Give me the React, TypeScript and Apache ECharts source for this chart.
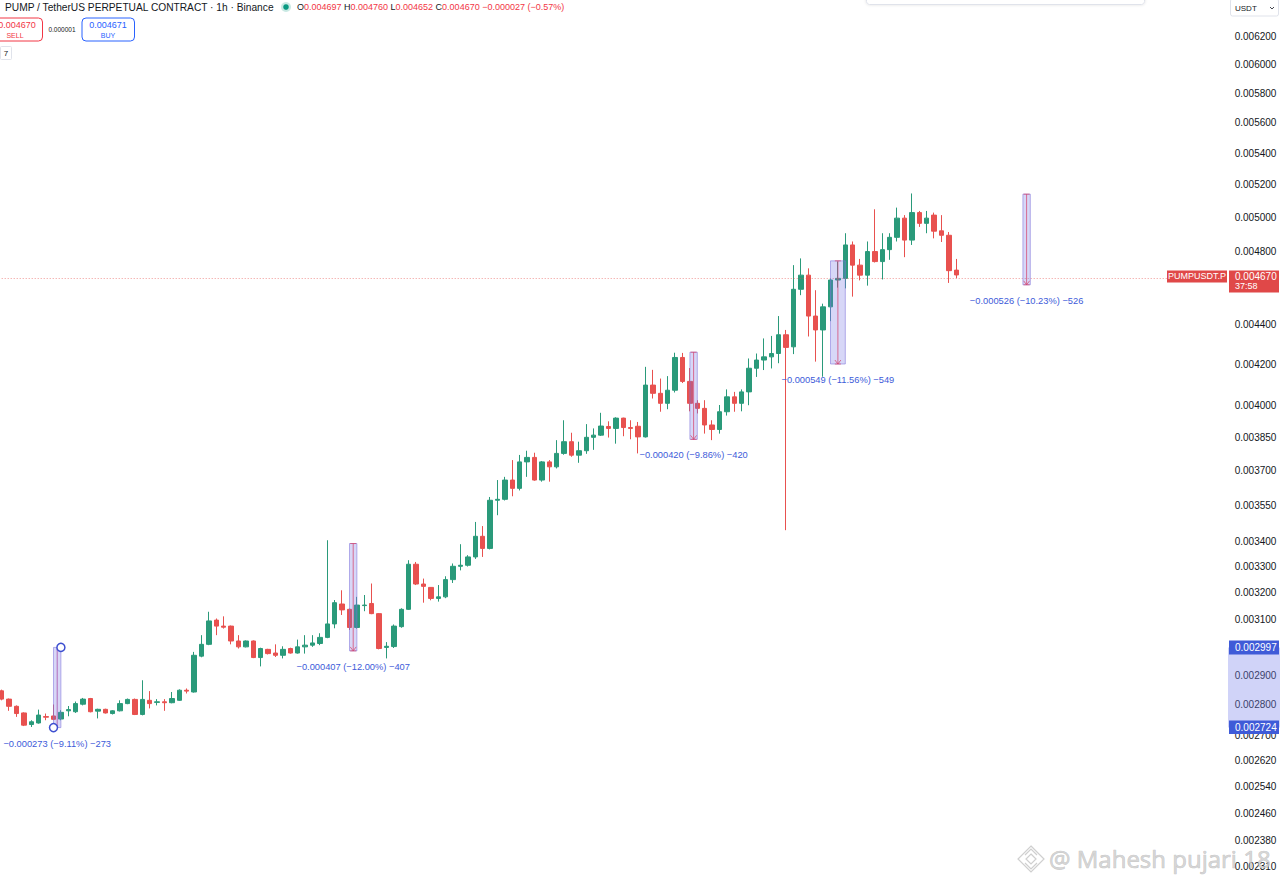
import React, { useEffect, useRef } from "react";
import * as echarts from "echarts";

// ---- candle data (USDT), 1h candles ----
const opens = [
  0.002846, 0.002818, 0.002794, 0.002772, 0.002734, 0.002739, 0.00276, 0.002762, 0.002752, 0.002779,
  0.002776, 0.002801, 0.00282, 0.002778, 0.002784, 0.00277, 0.002779, 0.002803, 0.002817, 0.002767,
  0.002814, 0.002807, 0.002809, 0.002806, 0.002814, 0.002848, 0.002842, 0.002966, 0.003008, 0.003096,
  0.003074, 0.003074, 0.00302, 0.002999, 0.00302, 0.002961, 0.00299, 0.002977, 0.002969, 0.002993,
  0.002977, 0.002999, 0.003005, 0.003011, 0.003033, 0.003082, 0.003156, 0.003136, 0.003069, 0.00315,
  0.003158, 0.00312, 0.002997, 0.003, 0.003072, 0.003136, 0.003309, 0.003232, 0.003219, 0.003177,
  0.003183, 0.003249, 0.003301, 0.003305, 0.003338, 0.003421, 0.003372, 0.003571, 0.003575, 0.003658,
  0.003622, 0.003738, 0.003758, 0.003658, 0.003738, 0.003716, 0.003776, 0.003829, 0.003768, 0.003788,
  0.003849, 0.003859, 0.003899, 0.00389, 0.003938, 0.003894, 0.0039, 0.003851, 0.004096, 0.004056,
  0.004008, 0.004071, 0.004233, 0.004114, 0.004008, 0.003984, 0.003906, 0.003885, 0.003968, 0.004039,
  0.004008, 0.004063, 0.004179, 0.00422, 0.004236, 0.004253, 0.004349, 0.004287, 0.004591, 0.004669,
  0.004447, 0.004374, 0.004496, 0.004642, 0.004651, 0.00484, 0.004725, 0.004669, 0.004802, 0.004745,
  0.004813, 0.004884, 0.004997, 0.004868, 0.00503, 0.004966, 0.005015, 0.004922, 0.004896, 0.004697,
];
const highs = [
  0.00285, 0.00282, 0.002797, 0.002774, 0.002748, 0.002783, 0.00277, 0.0028, 0.002781, 0.002795,
  0.00281, 0.002822, 0.002822, 0.002786, 0.002786, 0.002781, 0.002814, 0.00282, 0.00282, 0.002882,
  0.002845, 0.002818, 0.002818, 0.002842, 0.002851, 0.002854, 0.002981, 0.003041, 0.003127, 0.003102,
  0.00311, 0.003076, 0.003041, 0.003022, 0.003022, 0.002996, 0.002992, 0.003008, 0.003001, 0.002996,
  0.003025, 0.003041, 0.003041, 0.003048, 0.003405, 0.003171, 0.003208, 0.003139, 0.003183, 0.00319,
  0.003234, 0.003122, 0.003016, 0.00308, 0.00314, 0.003325, 0.003318, 0.003253, 0.00322, 0.003228,
  0.003262, 0.003312, 0.003389, 0.003345, 0.00348, 0.003463, 0.003585, 0.003658, 0.003672, 0.003746,
  0.003769, 0.003788, 0.003779, 0.003742, 0.003746, 0.003836, 0.003928, 0.00387, 0.003829, 0.00391,
  0.00389, 0.003963, 0.003923, 0.003942, 0.00394, 0.003928, 0.00392, 0.004186, 0.004171, 0.004128,
  0.00414, 0.004257, 0.004256, 0.00418, 0.004023, 0.004023, 0.003928, 0.004, 0.004075, 0.004063,
  0.004075, 0.004228, 0.004253, 0.00433, 0.004343, 0.004447, 0.004374, 0.004725, 0.004763, 0.004707,
  0.004586, 0.004513, 0.00465, 0.004745, 0.004908, 0.00486, 0.00476, 0.00486, 0.00505, 0.004908,
  0.004908, 0.00506, 0.005015, 0.005146, 0.00504, 0.00504, 0.00503, 0.005015, 0.004915, 0.00476,
];
const lows = [
  0.002814, 0.002779, 0.002759, 0.002729, 0.002726, 0.002737, 0.002748, 0.002748, 0.002748, 0.002761,
  0.002772, 0.002797, 0.002774, 0.002754, 0.00277, 0.002767, 0.002777, 0.002801, 0.002765, 0.002764,
  0.002787, 0.002797, 0.002779, 0.002804, 0.002812, 0.002837, 0.00284, 0.002962, 0.003005, 0.003041,
  0.003065, 0.003008, 0.002993, 0.002997, 0.002959, 0.00293, 0.002972, 0.002963, 0.002958, 0.002975,
  0.002975, 0.002975, 0.002999, 0.003005, 0.00303, 0.003066, 0.003115, 0.00306, 0.003065, 0.003129,
  0.003118, 0.00299, 0.002958, 0.002995, 0.003068, 0.003134, 0.003228, 0.003161, 0.00317, 0.003165,
  0.003178, 0.003236, 0.003285, 0.0033, 0.00333, 0.003338, 0.003368, 0.003508, 0.00357, 0.003588,
  0.003613, 0.003672, 0.003655, 0.003651, 0.003651, 0.003709, 0.00377, 0.003761, 0.003734, 0.003774,
  0.003792, 0.003855, 0.003848, 0.00382, 0.003854, 0.00384, 0.003776, 0.003848, 0.004031, 0.003968,
  0.00398, 0.00406, 0.004106, 0.00397, 0.00396, 0.003866, 0.003836, 0.003866, 0.00395, 0.003968,
  0.00397, 0.003999, 0.004136, 0.00417, 0.004178, 0.004204, 0.003446, 0.00425, 0.004559, 0.00434,
  0.004212, 0.004137, 0.00442, 0.0046, 0.004596, 0.004551, 0.00464, 0.004611, 0.00474, 0.004645,
  0.004755, 0.00486, 0.00477, 0.00484, 0.004945, 0.004908, 0.004878, 0.004857, 0.004626, 0.004652,
];
const closes = [
  0.002818, 0.002794, 0.00277, 0.002732, 0.002743, 0.002765, 0.002758, 0.002751, 0.002774, 0.002783,
  0.002803, 0.002818, 0.002776, 0.002784, 0.002772, 0.002779, 0.002803, 0.002817, 0.002767, 0.002817,
  0.002803, 0.002809, 0.002806, 0.00282, 0.002848, 0.002845, 0.002969, 0.003008, 0.003093, 0.003074,
  0.00307, 0.00302, 0.002999, 0.00302, 0.002961, 0.002993, 0.002975, 0.002969, 0.00299, 0.002977,
  0.002999, 0.003005, 0.003013, 0.003033, 0.003082, 0.003161, 0.003134, 0.003069, 0.003152, 0.003152,
  0.00312, 0.002993, 0.003001, 0.003074, 0.003136, 0.003309, 0.003232, 0.003223, 0.003177, 0.003183,
  0.003249, 0.003301, 0.003305, 0.003338, 0.003421, 0.003372, 0.003571, 0.003575, 0.003658, 0.003622,
  0.003738, 0.003758, 0.003658, 0.003738, 0.003716, 0.003776, 0.003829, 0.003768, 0.003788, 0.003849,
  0.003859, 0.003901, 0.00389, 0.003938, 0.003894, 0.00389, 0.003851, 0.004096, 0.004056, 0.004008,
  0.004071, 0.004233, 0.004114, 0.004008, 0.003984, 0.003906, 0.003885, 0.003968, 0.004039, 0.004008,
  0.004063, 0.004179, 0.00422, 0.004236, 0.004253, 0.004349, 0.004284, 0.004591, 0.004669, 0.004447,
  0.004374, 0.004496, 0.004642, 0.004651, 0.00484, 0.004725, 0.004669, 0.004802, 0.004745, 0.004813,
  0.004884, 0.004997, 0.004868, 0.00503, 0.004966, 0.004997, 0.00492, 0.004896, 0.004694, 0.00467,
];

// number of bar slots on the time axis (candles + empty future space)
const TOTAL_SLOTS = 166;

// price-scale tick labels (log scale)
const tickValues = [
  0.0062, 0.006, 0.0058, 0.0056, 0.0054, 0.0052, 0.005, 0.0048, 0.0044, 0.0042, 0.004, 0.00385,
  0.0037, 0.00355, 0.0034, 0.0033, 0.0032, 0.0031, 0.0029, 0.0028, 0.0027, 0.00262, 0.00254,
  0.00246, 0.00238, 0.00231,
];
const PRICE_MIN = 0.0022638;
const PRICE_MAX = 0.0064793;

// price-range measurements
const rangeStart = [7, 47, 93, 112, 138];
const rangeEnd = [8, 48, 94, 114, 139];
const rangeTop = [0.002997, 0.0033917, 0.0042596, 0.0047491, 0.0051417];
const rangeBottom = [0.002724, 0.0029847, 0.0038396, 0.0042001, 0.0046157];
const rangeLabels = [
  "\u22120.000273 (\u22129.11%) \u2212273",
  "\u22120.000407 (\u221212.00%) \u2212407",
  "\u22120.000420 (\u22129.86%) \u2212420",
  "\u22120.000549 (\u221211.56%) \u2212549",
  "\u22120.000526 (\u221210.23%) \u2212526",
];

const lastPrice = 0.00467;
const headerTitle = "PUMP / TetherUS PERPETUAL CONTRACT \u00b7 1h \u00b7 Binance";
const ohlcLabels = ["O", "H", "L", "C"];
const ohlcValues = ["0.004697", "0.004760", "0.004652", "0.004670"];
const changeText = "\u22120.000027 (\u22120.57%)";

const GREEN = "#2a9a7a";
const RED = "#e8514f";
const BLUE = "#3d5bd9";
const FONT = "'Liberation Sans', Arial, sans-serif";

export default function App() {
  const ref = useRef<HTMLDivElement>(null);

  useEffect(() => {
    if (!ref.current) return;
    const chart = echarts.init(ref.current, undefined, { renderer: "svg" });
    const ln = Math.log;
    const categories = Array.from({ length: TOTAL_SLOTS }, (_, i) => String(i));
    const candleData = opens.map((o, i) => [ln(o), ln(closes[i]), ln(lows[i]), ln(highs[i])]);
    const rangeData = rangeStart.map((s, i) => [s, rangeEnd[i], ln(rangeTop[i]), ln(rangeBottom[i]), i]);

    const option: any = {
      animation: false,
      backgroundColor: "#ffffff",
      grid: { left: 1.7, right: 57.3, top: 0, bottom: 0 },
      xAxis: {
        type: "category",
        data: categories,
        boundaryGap: false,
        show: false,
      },
      yAxis: {
        type: "value",
        position: "right",
        min: ln(PRICE_MIN),
        max: ln(PRICE_MAX),
        splitLine: { show: false },
        axisLine: { show: false },
        axisTick: { show: false },
        axisLabel: {
          customValues: tickValues.map((v) => ln(v)),
          formatter: (v: number) => Math.exp(v).toFixed(6),
          fontSize: 10,
          color: "#131722",
          fontFamily: FONT,
          margin: 12,
          showMinLabel: true,
          showMaxLabel: true,
        },
      },
      series: [
        {
          type: "candlestick",
          data: candleData,
          barWidth: 5,
          itemStyle: {
            color: GREEN,
            color0: RED,
            borderColor: GREEN,
            borderColor0: RED,
            borderWidth: 1,
          },
          markLine: {
            silent: true,
            symbol: ["none", "none"],
            label: { show: false },
            lineStyle: { type: [1, 2], color: RED, width: 1, opacity: 0.6 },
            data: [{ yAxis: ln(lastPrice) }],
          },
          z: 2,
        },
        {
          type: "custom",
          coordinateSystem: "cartesian2d",
          encode: { x: [0, 1], y: [2, 3] },
          data: rangeData,
          z: 5,
          renderItem: (params: any, api: any) => {
            const p0 = api.coord([api.value(0), api.value(2)]);
            const p1 = api.coord([api.value(1), api.value(3)]);
            const idx = api.value(4);
            const xa = p0[0];
            const xb = p1[0];
            const yt = p0[1];
            const yb = p1[1];
            const xm = (xa + xb) / 2;
            const lineColor = "rgba(214,70,110,0.75)";
            const children: any[] = [
              {
                type: "rect",
                shape: { x: xa, y: yt, width: xb - xa, height: yb - yt },
                style: { fill: "rgba(110,110,225,0.28)", stroke: "rgba(125,115,220,0.55)", lineWidth: 1 },
              },
              {
                type: "line",
                shape: { x1: xm, y1: yt, x2: xm, y2: yb },
                style: { stroke: idx === 0 ? "rgba(170,80,170,0.8)" : lineColor, lineWidth: 1 },
              },
              {
                type: "text",
                x: xm,
                y: yb + 16,
                style: {
                  text: rangeLabels[idx],
                  fill: BLUE,
                  fontSize: 9.3,
                  fontFamily: FONT,
                  align: "center",
                  verticalAlign: "middle",
                },
              },
            ];
            if (idx === 0) {
              children.push(
                { type: "circle", shape: { cx: xb, cy: yt, r: 4 }, style: { fill: "#ffffff", stroke: "#3d4fd0", lineWidth: 1.5 } },
                { type: "circle", shape: { cx: xa, cy: yb, r: 4 }, style: { fill: "#ffffff", stroke: "#3d4fd0", lineWidth: 1.5 } }
              );
            } else {
              children.push(
                { type: "line", shape: { x1: xm - 3, y1: yt, x2: xm + 3, y2: yt }, style: { stroke: lineColor, lineWidth: 1 } },
                {
                  type: "polyline",
                  shape: { points: [[xm - 3, yb - 4], [xm, yb], [xm + 3, yb - 4]] },
                  style: { stroke: lineColor, lineWidth: 1, fill: "none" },
                },
                { type: "line", shape: { x1: xm - 3, y1: yb, x2: xm + 3, y2: yb }, style: { stroke: lineColor, lineWidth: 1 } }
              );
            }
            return { type: "group", children };
          },
        },
      ],
    };
    chart.setOption(option);

    const yOf = (v: number) => chart.convertToPixel({ yAxisIndex: 0 }, ln(v)) as number;
    const yLast = yOf(lastPrice);
    const yRt = yOf(rangeTop[0]);
    const yRb = yOf(rangeBottom[0]);

    const ohlcRich =
      ohlcLabels.map((k, i) => `{k|${k}}{v|${ohlcValues[i]}}`).join(" ") + ` {v|${changeText}}`;

    const graphic: any[] = [
      // header
      {
        type: "text",
        x: 5,
        y: 7,
        style: { text: headerTitle, fill: "#131722", fontSize: 10.2, fontFamily: FONT, verticalAlign: "middle" },
      },
      { type: "circle", shape: { cx: 286, cy: 7, r: 5 }, style: { fill: "rgba(8,153,129,0.22)" } },
      { type: "circle", shape: { cx: 286, cy: 7, r: 2.8 }, style: { fill: "#089981" } },
      {
        type: "text",
        x: 297,
        y: 7,
        style: {
          text: ohlcRich,
          verticalAlign: "middle",
          fontFamily: FONT,
          fontSize: 9,
          rich: {
            k: { fill: "#131722", fontSize: 9, fontFamily: FONT },
            v: { fill: "#f23645", fontSize: 9, fontFamily: FONT },
          },
        },
      },
      // sell / buy
      {
        type: "rect",
        shape: { x: -8, y: 18, width: 50.5, height: 23, r: 4 },
        style: { fill: "#ffffff", stroke: "#f23645", lineWidth: 1 },
      },
      {
        type: "text",
        x: 17,
        y: 25,
        style: { text: "0.004670", fill: "#f23645", fontSize: 9, fontFamily: FONT, align: "center", verticalAlign: "middle" },
      },
      {
        type: "text",
        x: 15,
        y: 35,
        style: { text: "SELL", fill: "#f23645", fontSize: 7, fontFamily: FONT, align: "center", verticalAlign: "middle" },
      },
      {
        type: "text",
        x: 62,
        y: 29,
        style: { text: "0.000001", fill: "#131722", fontSize: 6.5, fontFamily: FONT, align: "center", verticalAlign: "middle" },
      },
      {
        type: "rect",
        shape: { x: 82, y: 18, width: 52.5, height: 23, r: 4 },
        style: { fill: "#ffffff", stroke: "#2962ff", lineWidth: 1 },
      },
      {
        type: "text",
        x: 108,
        y: 25,
        style: { text: "0.004671", fill: "#2962ff", fontSize: 9, fontFamily: FONT, align: "center", verticalAlign: "middle" },
      },
      {
        type: "text",
        x: 108,
        y: 35,
        style: { text: "BUY", fill: "#2962ff", fontSize: 7, fontFamily: FONT, align: "center", verticalAlign: "middle" },
      },
      {
        type: "rect",
        shape: { x: 0.5, y: 46.5, width: 11, height: 13, r: 1 },
        style: { fill: "#ffffff", stroke: "#e0e3eb", lineWidth: 1 },
      },
      {
        type: "text",
        x: 6,
        y: 53,
        style: { text: "7", fill: "#131722", fontSize: 8, fontFamily: FONT, align: "center", verticalAlign: "middle" },
      },
      // popup edge at top
      {
        type: "rect",
        shape: { x: 866.5, y: -12, width: 278, height: 16.5, r: 3 },
        style: { fill: "#ffffff", stroke: "#e0e3eb", lineWidth: 1, shadowBlur: 3, shadowColor: "rgba(0,0,0,0.12)" },
      },
      // USDT selector
      {
        type: "rect",
        shape: { x: 1230.5, y: -1, width: 48, height: 17, r: 2 },
        style: { fill: "#ffffff", stroke: "#e0e3eb", lineWidth: 1 },
      },
      {
        type: "text",
        x: 1235,
        y: 8,
        style: { text: "USDT", fill: "#131722", fontSize: 8, fontFamily: FONT, verticalAlign: "middle" },
      },
      {
        type: "polyline",
        shape: { points: [[1270, 7], [1272, 9], [1274, 7]] },
        style: { stroke: "#131722", lineWidth: 0.8, fill: "none" },
      },
      // range highlight on the price scale
      {
        type: "rect",
        shape: { x: 1228, y: yRt, width: 52, height: yRb - yRt },
        style: { fill: "rgba(120,130,235,0.35)" },
        z: 10,
      },
      {
        type: "rect",
        shape: { x: 1229, y: yRt - 7, width: 50, height: 14 },
        style: { fill: "#3f5bd8" },
        z: 11,
      },
      {
        type: "text",
        x: 1235,
        y: yRt,
        style: { text: rangeTop[0].toFixed(6), fill: "#ffffff", fontSize: 10, fontFamily: FONT, verticalAlign: "middle" },
        z: 12,
      },
      {
        type: "rect",
        shape: { x: 1229, y: yRb - 7, width: 50, height: 13.5 },
        style: { fill: "#3f5bd8" },
        z: 11,
      },
      {
        type: "text",
        x: 1235,
        y: yRb,
        style: { text: rangeBottom[0].toFixed(6), fill: "#ffffff", fontSize: 10, fontFamily: FONT, verticalAlign: "middle" },
        z: 12,
      },
      // last price labels
      {
        type: "rect",
        shape: { x: 1167, y: yLast - 4.5, width: 60, height: 12 },
        style: { fill: "#e04848" },
        z: 11,
      },
      {
        type: "text",
        x: 1197,
        y: yLast + 1.5,
        style: { text: "PUMPUSDT.P", fill: "#ffffff", fontSize: 9, fontFamily: FONT, align: "center", verticalAlign: "middle" },
        z: 12,
      },
      {
        type: "rect",
        shape: { x: 1229, y: yLast - 4.5, width: 50, height: 22 },
        style: { fill: "#e04848" },
        z: 11,
      },
      {
        type: "text",
        x: 1235,
        y: yLast + 1.5,
        style: { text: lastPrice.toFixed(6), fill: "#ffffff", fontSize: 10, fontFamily: FONT, verticalAlign: "middle" },
        z: 12,
      },
      {
        type: "text",
        x: 1235,
        y: yLast + 11.5,
        style: { text: "37:58", fill: "#ffffff", fontSize: 9, fontFamily: FONT, verticalAlign: "middle" },
        z: 12,
      },
      // watermark
      {
        type: "polygon",
        shape: { points: [[1031, 846], [1044, 859], [1031, 872], [1018, 859]] },
        style: { fill: "none", stroke: "rgba(160,160,160,0.5)", lineWidth: 1.2 },
        z: 20,
      },
      {
        type: "polygon",
        shape: { points: [[1031, 854], [1036, 859], [1031, 864], [1026, 859]] },
        style: { fill: "none", stroke: "rgba(160,160,160,0.5)", lineWidth: 1.2 },
        z: 20,
      },
      {
        type: "polyline",
        shape: { points: [[1025, 855], [1031, 849], [1037, 855]] },
        style: { fill: "none", stroke: "rgba(160,160,160,0.5)", lineWidth: 1.2 },
        z: 20,
      },
      {
        type: "polyline",
        shape: { points: [[1025, 863], [1031, 869], [1037, 863]] },
        style: { fill: "none", stroke: "rgba(160,160,160,0.5)", lineWidth: 1.2 },
        z: 20,
      },
      {
        type: "text",
        x: 1049,
        y: 858,
        style: {
          text: "@ Mahesh pujari 18",
          fill: "rgba(205,205,205,0.8)",
          stroke: "rgba(130,130,130,0.45)",
          lineWidth: 0.7,
          fontSize: 24,
          fontFamily: "'Open Sans', 'Noto Sans', sans-serif",
          verticalAlign: "middle",
        },
        z: 20,
      },
    ];
    chart.setOption({ graphic });

    return () => chart.dispose();
  }, []);

  return (
    <div
      ref={ref}
      style={{ position: "fixed", left: 0, top: 0, width: 1280, height: 883, background: "#ffffff" }}
    />
  );
}
